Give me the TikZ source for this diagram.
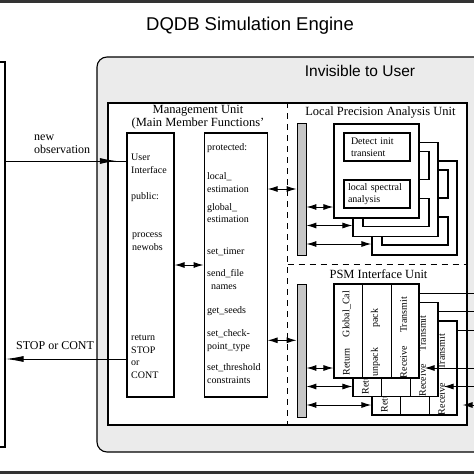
\documentclass[tikz,border=0pt]{standalone}
\usepackage{fontspec}
\setmainfont{Liberation Serif}
\newfontfamily\enginefont{Liberation Sans}
\usetikzlibrary{positioning,calc,arrows.meta,decorations.markings}
\tikzset{>={Latex[length=10pt,width=6pt]}}

\begin{document}
\begin{tikzpicture}[x=1pt,y=-1pt,
	unitbox/.style={draw,line width=1.1pt,fill=white,inner sep=0pt},
	rail/.style={draw,line width=0.8pt,fill=gray!45,minimum width=9pt,inner sep=0pt},
	link/.style={line width=1pt,<->},
	txt/.style={font=\fontsize{10}{12.5}\selectfont,align=left,inner sep=0pt,anchor=west},
	rtxt/.style={font=\fontsize{10}{12}\selectfont,rotate=90,inner sep=0pt},
	head/.style={font=\fontsize{12.5}{12.5}\selectfont,align=center,inner sep=0pt},
	lbl/.style={font=\fontsize{12}{13}\selectfont,align=left,inner sep=0pt,anchor=west},
	divider/.style={dash pattern=on 6pt off 5pt,line width=1pt}]
	\useasboundingbox (0,0) rectangle (474,474);
	\fill[black!80] (0,0) rectangle (474,3);
	\fill[black!80] (0,470.5) rectangle (474,474);
	\node[font=\enginefont\fontsize{18.5}{20}\selectfont] (title) at (250,26) {DQDB Simulation Engine};
	
	\node[draw,line width=1.1pt,minimum width=20pt,minimum height=385pt] (usr) at (-5,254.5) {};
	\node[draw,line width=1.1pt,rounded corners=10pt,fill=gray!16,minimum width=400pt,minimum height=395pt] (engine) at (297,254.5) {};
	\node[font=\enginefont\fontsize{15.5}{18}\selectfont] (invis) at (360,71) {Invisible to User};
	\node[unitbox,minimum width=359pt,minimum height=322pt] (inner) at (287.5,264) {};
	\draw[divider] (inner.north) -- (inner.south);
	\draw[divider] (inner.center) -- (inner.east);
	
	\node[head] (mgmt) at (198,117) {Management Unit\\(Main Member Functions'};
	\node[head] (lpahead) at (380.5,113) {Local Precision Analysis Unit};
	\node[head] (psmhead) at (378.5,274) {PSM Interface Unit};
	
	% management unit
	\node[unitbox,minimum width=47pt,minimum height=264pt] (ui) at (150.5,265) {};
	\node[unitbox,minimum width=63pt,minimum height=264pt,right=29pt of ui] (mf) {};
	\node[txt] (uitxt) at (131,164) {User\\Interface};
	\node[txt] (pubtxt) at (131,197) {public:};
	\node[txt] (proctxt) at (132,241.5) {process\\newobs};
	\node[txt] (rettxt) at (131,356.5) {return\\STOP\\or\\CONT};
	\node[txt] (prot) at (207,148) {protected:};
	\node[txt] (loc) at (207,182.5) {local\_\\estimation};
	\node[txt] (glo) at (207,213) {global\_\\estimation};
	\node[txt] (tim) at (207,252) {set\_timer};
	\node[txt] (snd) at (207,279.5) {send\_file\\\hspace*{4pt}names};
	\node[txt] (seed) at (207,311) {get\_seeds};
	\node[txt] (chk) at (207,340.5) {set\_check-\\point\_type};
	\node[txt] (thr) at (207,373.5) {set\_threshold\\constraints};
	
	\node[rail,minimum height=132pt] (rail1) at (301.5,189) {};
	\node[rail,minimum height=133pt,below=29pt of rail1] (rail2) {};
	\draw[link] (ui) -- (mf);
	\coordinate (m1) at (rail1.west);
	\draw[link] (mf.east |- m1) -- (m1);
	\coordinate (m2) at ([yshift=11pt]rail2.west);
	\draw[link] (mf.east |- m2) -- (m2);
	
	% local precision analysis
	\foreach \k in {2,1,0}{
		\node[unitbox,minimum width=85pt,minimum height=94pt] (lpa\k) at (376.5+19*\k,171+18.5*\k) {};
		\node[unitbox,minimum width=66pt,minimum height=28pt] (det\k) at ([shift={(0.5,-24)}]lpa\k.center) {};
		\node[unitbox,minimum width=66pt,minimum height=28pt] (spc\k) at ([shift={(0.5,23)}]lpa\k.center) {};
		\coordinate (la\k) at ([yshift=-36pt]lpa\k.west);
		\draw[link] (rail1.east |- la\k) -- (la\k);
	}
	\node[txt,anchor=center,text width=52pt] (dettxt) at (det0) {Detect init\\transient};
	\node[txt,anchor=center,text width=58pt] (spctxt) at (spc0) {local spectral\\analysis};
	
	% psm interface
	\foreach \k in {2,1,0}{
		\node[unitbox,minimum width=85pt,minimum height=94pt] (psm\k) at (376.5+19*\k,331+18.5*\k) {};
		\draw[line width=1.1pt] ([xshift=29pt]psm\k.north west) -- ([xshift=29pt]psm\k.south west);
		\draw[line width=1.1pt] ([xshift=58pt]psm\k.north west) -- ([xshift=58pt]psm\k.south west);
		\node[rtxt] (ret\k) at ([shift={(-30,31)}]psm\k.center) {Return};
		\node[rtxt] (rcv\k) at ([shift={(27,31)}]psm\k.center) {Receive};
		\node[rtxt] (tmt\k) at ([shift={(27,-16)}]psm\k.center) {Transmit};
		\coordinate (pa\k) at ([yshift=-37pt]psm\k.west);
		\draw[link] (rail2.east |- pa\k) -- (pa\k);
		\coordinate (tx\k) at ([shift={(70,-38)}]psm\k.east);
		\draw[line width=1pt] (psm\k.east |- tx\k) -- (tx\k);
		\coordinate (rx\k) at ([shift={(70,37)}]psm\k.east);
		\coordinate (rt\k) at ([shift={(5,37)}]psm\k.east);
		\draw[line width=1pt,->] (rx\k) -- (rt\k);
	}
	\node[rtxt] (glob) at ([shift={(-30,-17)}]psm0.center) {Global\_Cal};
	\node[rtxt] (unp) at ([shift={(-1,31)}]psm0.center) {unpack};
	\node[rtxt] (pck) at ([shift={(-1,-13)}]psm0.center) {pack};
	
	\coordinate (obs) at ([yshift=104pt]ui.west);
	\draw[line width=1pt,postaction={decorate},decoration={markings,mark=at position 0.92 with {\arrow{Latex[length=17pt,width=6pt]}}}] (usr.east |- obs) -- (obs);
	\node[lbl] (obstxt) at (34,144.5) {new\\observation};
	\coordinate (stp) at ([yshift=-94pt]ui.west);
	\draw[line width=1pt,-{Latex[length=18pt,width=6pt]}] (stp) -- (usr.east |- stp);
	\node[lbl] (stptxt) at (16,346) {STOP or CONT};
\end{tikzpicture}
\end{document}
